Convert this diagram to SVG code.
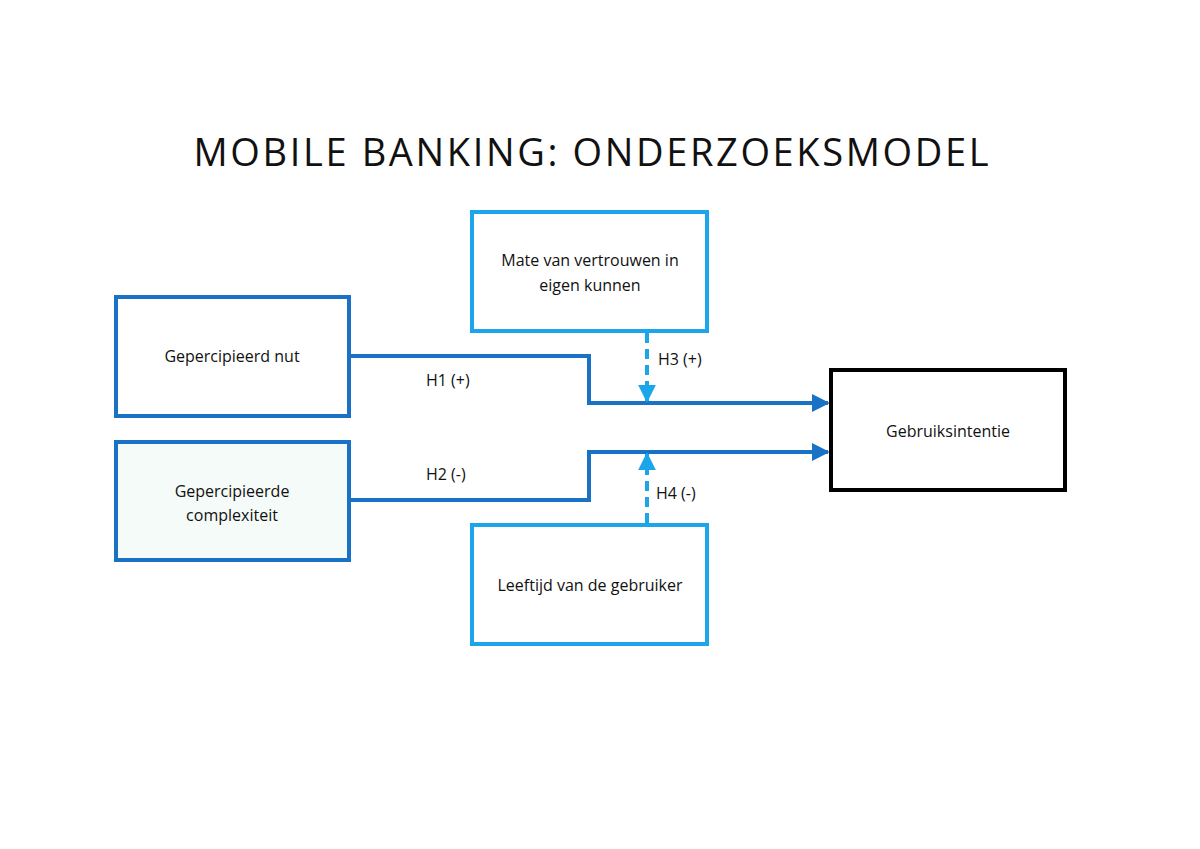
<svg xmlns="http://www.w3.org/2000/svg" width="1200" height="849" viewBox="0 0 1200 849">
<style>
text{font-family:"Open Sans","Liberation Sans",sans-serif;fill:#111}
.lbl{font-size:16px}
.dk{fill:#fff;stroke:#1a72c7;stroke-width:4}
.lt{fill:#fff;stroke:#1ba6ec;stroke-width:4}
.c{fill:none;stroke:#1a72c7;stroke-width:4}
.d{fill:none;stroke:#1ba6ec;stroke-width:4;stroke-dasharray:10,6}
</style>
<defs>
<marker id="a" viewBox="0 0 10 10" refX="9" refY="5" markerWidth="4.5" markerHeight="4.5" orient="auto" markerUnits="strokeWidth"><path d="M0,0L10,5L0,10z" fill="#1a72c7"/></marker>
<marker id="b" viewBox="0 0 10 10" refX="9" refY="5" markerWidth="4.5" markerHeight="4.5" orient="auto" markerUnits="strokeWidth"><path d="M0,0L10,5L0,10z" fill="#1ba6ec"/></marker>
</defs>
<rect width="1200" height="849" fill="#fff"/>
<text x="591" y="166" text-anchor="middle" font-size="38" textLength="795">MOBILE BANKING: ONDERZOEKSMODEL</text>
<g id="connectors">
<path class="c" d="M349,356H589V403H828" marker-end="url(#a)"/>
<path class="c" d="M349,500H589V452H828" marker-end="url(#a)"/>
<path class="d" d="M647,333V401" marker-end="url(#b)"/>
<path class="d" d="M647,523V454" marker-end="url(#b)"/>
<text class="lbl" x="426" y="386">H1 (+)</text>
<text class="lbl" x="426" y="480">H2 (-)</text>
<text class="lbl" x="658" y="365">H3 (+)</text>
<text class="lbl" x="656" y="499">H4 (-)</text>
</g>
<g id="nut"><rect class="dk" x="116" y="297" width="233" height="119"/><text class="lbl" x="232" y="362" text-anchor="middle">Gepercipieerd nut</text></g>
<g id="complex"><rect class="dk" x="116" y="442" width="233" height="118" style="fill:#f5fbf8"/><text class="lbl" x="232" y="497" text-anchor="middle">Gepercipieerde</text><text class="lbl" x="232" y="521" text-anchor="middle">complexiteit</text></g>
<g id="vertrouwen"><rect class="lt" x="472" y="212" width="235" height="119"/><text class="lbl" x="590" y="266" text-anchor="middle">Mate van vertrouwen in</text><text class="lbl" x="590" y="291" text-anchor="middle">eigen kunnen</text></g>
<g id="leeftijd"><rect class="lt" x="472" y="525" width="235" height="119"/><text class="lbl" x="590" y="591" text-anchor="middle">Leeftijd van de gebruiker</text></g>
<g id="intentie"><rect x="831" y="370" width="234" height="120" fill="#fff" stroke="#000" stroke-width="4"/><text class="lbl" x="948" y="437" text-anchor="middle">Gebruiksintentie</text></g>
</svg>
